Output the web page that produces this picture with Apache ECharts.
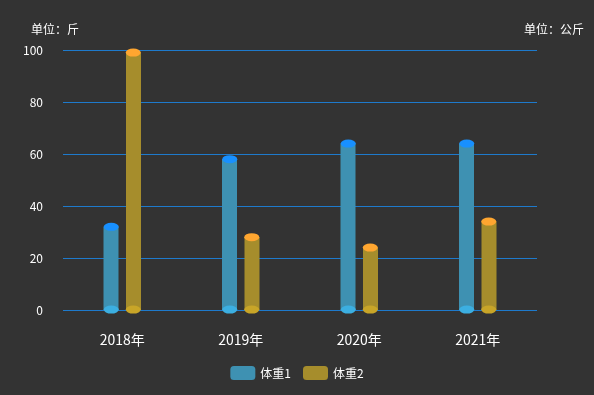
<!DOCTYPE html>
<html><head><meta charset="utf-8">
<script src="https://cdn.jsdelivr.net/npm/echarts@6/dist/echarts.min.js"></script>
<style>html,body{margin:0;padding:0;background:#333;}#c{width:594px;height:395px;}</style>
</head><body><div id="c"></div>
<script>
var categories = ['2018年', '2019年', '2020年', '2021年'];
var weight1 = [32, 58, 64, 64];
var weight2 = [99, 28, 24, 34];
var yTicks = [0, 20, 40, 60, 80, 100];

var font = '"Noto Sans CJK SC", "Microsoft YaHei", sans-serif';
var chart = echarts.init(document.getElementById('c'));
var off = 11;
chart.setOption({
  backgroundColor: '#333333',
  textStyle: { fontFamily: font },
  grid: { left: 63, right: 57, top: 50, bottom: 85 },
  legend: {
    data: ['体重1', '体重2'], top: 361, left: 'center',
    icon: 'roundRect', itemWidth: 25, itemHeight: 14, itemGap: 12,
    textStyle: { color: '#fff', fontSize: 12, fontFamily: font }
  },
  xAxis: {
    type: 'category', data: categories,
    axisLine: { show: false }, axisTick: { show: false },
    axisLabel: { color: '#fff', fontSize: 14, margin: 23, fontFamily: font }
  },
  yAxis: [{
    type: 'value', min: yTicks[0], max: yTicks[yTicks.length - 1], interval: 20,
    name: '单位：斤',
    nameTextStyle: { color: '#fff', fontSize: 12, padding: [0, 16, 0, 0], fontFamily: font },
    axisLine: { show: false }, axisTick: { show: false },
    axisLabel: { color: '#fff', fontSize: 12, margin: 20, fontFamily: font },
    splitLine: { lineStyle: { color: '#1e7acc', width: 1 } }
  }, {
    type: 'value', min: yTicks[0], max: yTicks[yTicks.length - 1], interval: 20,
    name: '单位：公斤',
    nameTextStyle: { color: '#fff', fontSize: 12, padding: [0, 0, 0, 34], fontFamily: font },
    axisLine: { show: false }, axisTick: { show: false },
    axisLabel: { show: false }, splitLine: { show: false }
  }],
  series: [
    { name: '体重1', type: 'bar', data: weight1, barWidth: 15, barGap: '50%',
      itemStyle: { color: '#3e91b2' }, z: 2 },
    { name: '体重2', type: 'bar', data: weight2, barWidth: 15,
      itemStyle: { color: '#a68d2c' }, z: 2 },
    { name: '体重1', type: 'pictorialBar', data: weight1, symbol: 'circle',
      symbolSize: [15, 8], symbolPosition: 'end', symbolOffset: [-off, '-50%'], barGap: '-100%',
      itemStyle: { color: '#1890ff' }, z: 5 },
    { name: '体重2', type: 'pictorialBar', data: weight2, symbol: 'circle',
      symbolSize: [15, 8], symbolPosition: 'end', symbolOffset: [off, '-50%'], barGap: '-100%',
      itemStyle: { color: '#ffa630' }, z: 5 },
    { name: '体重1', type: 'pictorialBar', data: weight1, symbol: 'circle',
      symbolSize: [15, 8], symbolPosition: 'start', symbolOffset: [-off, '45%'], barGap: '-100%',
      itemStyle: { color: '#3cafe1' }, z: 4 },
    { name: '体重2', type: 'pictorialBar', data: weight2, symbol: 'circle',
      symbolSize: [15, 8], symbolPosition: 'start', symbolOffset: [off, '45%'], barGap: '-100%',
      itemStyle: { color: '#c8a528' }, z: 4 }
  ]
});
</script></body></html>
